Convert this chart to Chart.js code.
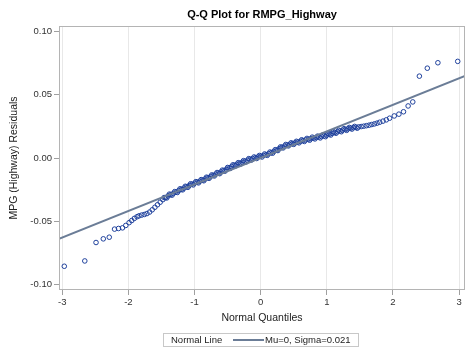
<!DOCTYPE html>
<html><head><meta charset="utf-8">
<script src="https://cdn.jsdelivr.net/npm/chart.js@4/dist/chart.umd.min.js"></script>
<style>
html,body{margin:0;padding:0;background:#fff;}
#wrap{position:relative;width:474px;height:355px;}
#legend{position:absolute;left:163px;top:333px;width:194px;height:12px;border:1px solid #c8c8c8;font:9.5px "Liberation Sans",Arial,sans-serif;color:#222;}
#legend span{position:absolute;top:0;line-height:12px;white-space:nowrap;}
#legend .sw{position:absolute;left:69px;top:5px;width:31px;height:2px;background:#6b7d97;}
</style>
</head><body>
<div id="wrap">
<canvas id="c" width="474" height="355"></canvas>
<div id="legend"><span style="left:7px">Normal Line</span><div class="sw"></div><span style="left:101px">Mu=0, Sigma=0.021</span></div>
</div>
<script>
const chartTitle = "Q-Q Plot for RMPG_Highway";
const xTitle = "Normal Quantiles";
const yTitle = "MPG (Highway) Residuals";
const xTicks = [-3, -2, -1, 0, 1, 2, 3];
const yTicks = [-0.10, -0.05, 0.00, 0.05, 0.10];
const mu = 0, sigma = 0.021;
const xRange = [-3.05, 3.09];

const quantiles = [
 -2.97,-2.66,-2.49,-2.38,-2.29,-2.21,-2.15,-2.09,-2.04,-1.99,-1.95,-1.91,-1.87,
 -1.84,-1.80,-1.76,-1.72,-1.68,-1.64,-1.60,-1.56,-1.52,-1.48,-1.44,-1.40,-1.36,-1.32,-1.28,-1.24,
 -1.20,-1.16,-1.12,-1.08,-1.04,-1.00,-0.96,-0.92,-0.88,-0.84,-0.80,-0.76,-0.72,-0.68,-0.64,-0.60,
 -0.56,-0.52,-0.48,-0.44,-0.40,-0.36,-0.32,-0.28,-0.24,-0.20,-0.16,-0.12,-0.08,-0.04,0.00,
 0.04,0.08,0.12,0.16,0.20,0.24,0.28,0.32,0.36,0.40,0.44,0.48,0.52,0.56,0.60,0.64,0.68,0.72,
 0.76,0.80,0.84,0.88,0.92,0.96,1.00,1.04,1.08,1.12,1.16,1.20,1.24,1.28,1.32,1.36,1.40,1.44,
 1.48,1.52,1.56,1.60,1.64,1.68,1.72,1.76,1.80,1.85,1.90,1.95,2.02,2.09,2.16,2.23,2.30,
 2.40,2.52,2.68,2.98
];
const residuals = [
 -0.0857,-0.0815,-0.0669,-0.0640,-0.0627,-0.0563,-0.0558,-0.0553,-0.0534,-0.0512,-0.0495,-0.0478,-0.0465,
 -0.0458,-0.0452,-0.0447,-0.0440,-0.0428,-0.0410,-0.0390,-0.0370,-0.0350,-0.0330,-0.0314,-0.0300,-0.0290,-0.0280,-0.0270,-0.0258,
 -0.0248,-0.0238,-0.0228,-0.0218,-0.0208,-0.0200,-0.0192,-0.0184,-0.0176,-0.0166,-0.0156,-0.0148,-0.0138,-0.0128,-0.0120,-0.0110,
 -0.0100,-0.0090,-0.0078,-0.0068,-0.0058,-0.0050,-0.0042,-0.0034,-0.0026,-0.0018,-0.0010,-0.0004,0.0002,0.0008,0.0014,
 0.0020,0.0026,0.0034,0.0042,0.0052,0.0062,0.0074,0.0084,0.0094,0.0102,0.0108,0.0114,0.0120,0.0126,0.0132,0.0138,0.0143,0.0148,
 0.0153,0.0158,0.0162,0.0166,0.0170,0.0175,0.0181,0.0188,0.0195,0.0202,0.0208,0.0214,0.0220,0.0226,0.0231,0.0236,0.0240,0.0243,
 0.0246,0.0249,0.0252,0.0256,0.0260,0.0265,0.0270,0.0276,0.0283,0.0292,0.0302,0.0315,0.0333,0.0347,0.0366,0.0412,0.0444,
 0.0648,0.0711,0.0754,0.0765
];
// dense central observations (between the ones above)
const denseQuantiles = [
 -1.46,-1.42,-1.38,-1.34,-1.30,-1.26,-1.22,-1.18,-1.14,-1.10,-1.06,-1.02,-0.98,-0.94,-0.90,-0.86,
 -0.82,-0.78,-0.74,-0.70,-0.66,-0.62,-0.58,-0.54,-0.50,-0.46,-0.42,-0.38,-0.34,-0.30,-0.26,-0.22,
 -0.18,-0.14,-0.10,-0.06,-0.02,0.02,0.06,0.10,0.14,0.18,0.22,0.26,0.30,0.34,0.38,0.42,0.46,0.50,
 0.54,0.58,0.62,0.66,0.70,0.74,0.78,0.82,0.86,0.90,0.94,0.98,1.02,1.06,1.10,1.14,1.18,1.22,1.26,
 1.30,1.34,1.38,1.42,1.46
];
const denseResiduals = [
 -0.0313,-0.0316,-0.0286,-0.0294,-0.0266,-0.0273,-0.0244,-0.0252,-0.0224,-0.0232,-0.0204,-0.0213,-0.0187,-0.0197,-0.0171,-0.0180,
 -0.0152,-0.0161,-0.0134,-0.0142,-0.0115,-0.0124,-0.0096,-0.0104,-0.0075,-0.0082,-0.0054,-0.0063,-0.0037,-0.0047,-0.0021,-0.0031,
 -0.0005,-0.0016,0.0008,-0.0004,0.0020,0.0008,0.0032,0.0021,0.0047,0.0038,0.0066,0.0059,0.0088,0.0080,0.0107,0.0096,0.0120,0.0108,
 0.0132,0.0120,0.0144,0.0131,0.0155,0.0141,0.0165,0.0151,0.0173,0.0159,0.0182,0.0169,0.0194,0.0182,0.0208,0.0196,0.0220,0.0208,0.0232,
 0.0219,0.0242,0.0229,0.0250,0.0236
];

const points = quantiles.map((q, i) => ({x: q, y: residuals[i]}))
  .concat(denseQuantiles.map((q, i) => ({x: q, y: denseResiduals[i]})));
const normalLine = xRange.map(q => ({x: q, y: mu + sigma * q}));

const FONT = '"Liberation Sans", Arial, sans-serif';

const framePlugin = {
  id: 'frame',
  afterDraw(chart) {
    const {ctx, chartArea: a} = chart;
    ctx.save();
    ctx.strokeStyle = '#b4b4b4';
    ctx.lineWidth = 1;
    ctx.strokeRect(Math.round(a.left) + 0.5, Math.round(a.top) + 0.5, Math.round(a.right - a.left) - 1, Math.round(a.bottom - a.top) - 1);
    ctx.restore();
  }
};

new Chart(document.getElementById('c'), {
  type: 'scatter',
  data: {
    datasets: [
      {
        label: 'Residuals',
        data: points,
        showLine: false,
        pointStyle: 'circle',
        pointRadius: 2.3,
        pointBorderWidth: 1,
        pointBorderColor: '#1f419c',
        pointBackgroundColor: 'rgba(0,0,0,0)',
        order: 2
      },
      {
        label: 'Normal Line',
        data: normalLine,
        type: 'line',
        showLine: true,
        borderColor: '#6b7d97',
        borderWidth: 2,
        pointRadius: 0,
        fill: false,
        order: 1
      }
    ]
  },
  options: {
    responsive: false,
    animation: false,
    layout: {padding: {left: 0, right: 9, top: 0, bottom: 31}},
    plugins: {
      legend: {display: false},
      tooltip: {enabled: false},
      title: {
        display: true,
        text: chartTitle,
        fullSize: false,
        color: '#000',
        font: {family: FONT, size: 11, weight: 'bold'},
        padding: {top: 8, bottom: 4.8}
      }
    },
    scales: {
      x: {
        type: 'linear',
        min: xRange[0],
        max: xRange[1],
        afterBuildTicks: s => { s.ticks = xTicks.map(v => ({value: v})); },
        afterFit: s => { s.height = 34; },
        border: {display: false},
        grid: {color: '#e8e8e8', tickColor: '#a0a0a0', tickLength: 5, lineWidth: 1},
        ticks: {color: '#333', font: {family: FONT, size: 9.5}, padding: 2, maxRotation: 0, autoSkip: false,
                callback: v => String(v)},
        title: {display: true, text: xTitle, color: '#222', font: {family: FONT, size: 10.5}, padding: {top: 0, bottom: 0}}
      },
      y: {
        type: 'linear',
        min: -0.1045,
        max: 0.1045,
        afterBuildTicks: s => { s.ticks = yTicks.map(v => ({value: v})); },
        afterFit: s => { s.width = 59; },
        border: {display: false},
        grid: {drawOnChartArea: false, tickColor: '#a0a0a0', tickLength: 5},
        ticks: {color: '#333', font: {family: FONT, size: 9.5}, padding: 2, autoSkip: false,
                callback: v => v.toFixed(2)},
        title: {display: true, text: yTitle, color: '#222', font: {family: FONT, size: 10.5}, padding: {top: 8, bottom: 0}}
      }
    }
  },
  plugins: [framePlugin]
});
</script>
</body></html>
